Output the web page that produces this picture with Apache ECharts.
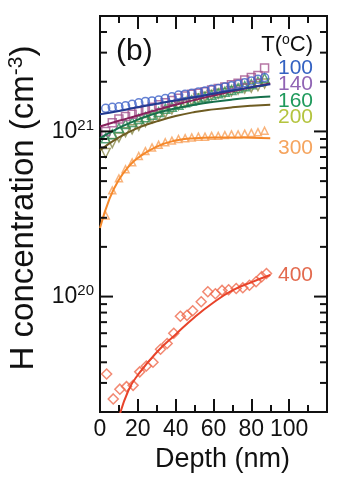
<!DOCTYPE html>
<html>
<head>
<meta charset="utf-8">
<script src="https://cdn.jsdelivr.net/npm/echarts@6/dist/echarts.min.js"></script>
<style>
  html, body { margin: 0; padding: 0; background: #fff; }
  #chart { width: 344px; height: 495px; }
</style>
</head>
<body>
<div id="chart"></div>
<script>
const FONT = "Liberation Sans, Arial, sans-serif";

// measured depths (nm)
const depth = [3, 6.5, 10, 13.5, 17, 20.5, 24, 27.5, 31, 34.5, 38, 41.5, 45, 48.5, 52, 55.5, 59, 62.5, 66, 69.5, 73, 76.5, 80, 83.5, 87];
const depth400 = [3.5, 7, 10.5, 14, 17.5, 21, 24.5, 28, 32, 35.5, 39, 42.5, 46, 49, 53.5, 57, 61, 64.5, 68, 72, 75.5, 79, 82.5, 85.5, 88];

// H concentration (cm^-3) per anneal temperature
const h100 = [1.38e21, 1.40e21, 1.41e21, 1.43e21, 1.46e21, 1.49e21, 1.52e21, 1.53e21, 1.55e21, 1.58e21, 1.62e21, 1.66e21, 1.68e21, 1.70e21, 1.73e21, 1.76e21, 1.80e21, 1.82e21, 1.86e21, 1.89e21, 1.93e21, 1.97e21, 2.02e21, 2.07e21, 2.12e21];
const h140 = [1.00e21, 1.13e21, 1.19e21, 1.23e21, 1.27e21, 1.32e21, 1.36e21, 1.40e21, 1.45e21, 1.49e21, 1.54e21, 1.59e21, 1.64e21, 1.68e21, 1.70e21, 1.74e21, 1.78e21, 1.82e21, 1.86e21, 1.92e21, 1.96e21, 2.05e21, 2.12e21, 2.18e21, 2.42e21];
const h160 = [0.91e21, 0.96e21, 1.05e21, 1.11e21, 1.14e21, 1.19e21, 1.22e21, 1.26e21, 1.31e21, 1.37e21, 1.41e21, 1.45e21, 1.50e21, 1.54e21, 1.58e21, 1.62e21, 1.66e21, 1.70e21, 1.74e21, 1.78e21, 1.83e21, 1.88e21, 1.93e21, 2.00e21, 2.10e21];
const h200 = [0.74e21, 0.85e21, 0.92e21, 0.99e21, 1.03e21, 1.08e21, 1.14e21, 1.20e21, 1.24e21, 1.29e21, 1.36e21, 1.44e21, 1.49e21, 1.53e21, 1.58e21, 1.62e21, 1.66e21, 1.69e21, 1.71e21, 1.75e21, 1.79e21, 1.82e21, 1.84e21, 1.88e21, 1.95e21];
const h300 = [3.1e20, 4.4e20, 5.2e20, 5.9e20, 6.5e20, 7.1e20, 7.6e20, 8.0e20, 8.3e20, 8.6e20, 8.8e20, 9.0e20, 9.1e20, 9.2e20, 9.3e20, 9.3e20, 9.4e20, 9.4e20, 9.5e20, 9.6e20, 9.6e20, 9.7e20, 9.8e20, 9.9e20, 1.01e21];
const h400 = [3.4e19, 2.4e19, 2.75e19, 2.85e19, 2.9e19, 3.5e19, 3.8e19, 4.0e19, 4.8e19, 5.2e19, 6.0e19, 7.6e19, 7.7e19, 8.2e19, 9.3e19, 1.07e20, 1.04e20, 1.09e20, 1.10e20, 1.12e20, 1.13e20, 1.17e20, 1.23e20, 1.32e20, 1.38e20];

// fitted curves
const fitDepth = [0, 10, 20, 30, 40, 50, 60, 70, 80, 90];
const fit100 = [1.27e21, 1.33e21, 1.40e21, 1.47e21, 1.54e21, 1.61e21, 1.69e21, 1.77e21, 1.85e21, 1.93e21];
const fit140 = [1.07e21, 1.16e21, 1.25e21, 1.35e21, 1.45e21, 1.55e21, 1.65e21, 1.75e21, 1.85e21, 1.95e21];
const fit160 = [0.91e21, 1.05e21, 1.18e21, 1.29e21, 1.38e21, 1.45e21, 1.51e21, 1.56e21, 1.60e21, 1.63e21];
const fit200 = [0.77e21, 0.92e21, 1.05e21, 1.15e21, 1.24e21, 1.31e21, 1.36e21, 1.40e21, 1.43e21, 1.45e21];
const fitDepth300 = [0, 5, 10, 15, 20, 30, 40, 50, 60, 70, 80, 90];
const fit300 = [2.6e20, 3.9e20, 5.1e20, 6.1e20, 6.9e20, 8.1e20, 8.8e20, 9.1e20, 9.2e20, 9.2e20, 9.15e20, 9.1e20];
const fitDepth400 = [10, 15, 20, 30, 40, 50, 60, 70, 80, 90];
const fit400 = [1.85e19, 2.7e19, 3.35e19, 4.6e19, 5.9e19, 7.5e19, 9.2e19, 1.09e20, 1.22e20, 1.35e20];

// y axis ticks (log), drawn on both sides
const yTicks = [3e19, 4e19, 5e19, 6e19, 7e19, 8e19, 9e19, 1e20, 2e20, 3e20, 4e20, 5e20, 6e20, 7e20, 8e20, 9e20, 1e21, 2e21, 3e21, 4e21];
const tempLabels = ["100", "140", "160", "200", "300", "400"];

const markerColor = ["#3f63c8", "#a2548e", "#2f8f5a", "#8a8a4a", "#f7a05a", "#ef6a4e"];
const lineColor = ["#22398f", "#87205c", "#16704c", "#6e5c22", "#f5882a", "#e8432a"];
const textColor = ["#3462c2", "#9064b4", "#1f9a5c", "#b4c43e", "#f5a45e", "#e36a4e"];

const pair = (xs, ys) => xs.map((x, i) => [x, ys[i]]);

function scatter(name, data, idx, symbol, size, rotate) {
    return {
        name: name,
        type: "scatter",
        data: data,
        symbol: symbol,
        symbolSize: size,
        symbolRotate: rotate || 0,
        itemStyle: { color: "transparent", borderColor: markerColor[idx], borderWidth: 1.5 },
        z: 3,
    };
}
function fit(name, data, idx) {
    return {
        name: name,
        type: "line",
        data: data,
        smooth: true,
        showSymbol: false,
        symbol: "none",
        lineStyle: { color: lineColor[idx], width: 2 },
        z: 4,
    };
}

const chart = echarts.init(document.getElementById("chart"));

const supRich = {
    base: { fontSize: 23, fontFamily: FONT, color: "#111" },
    sup: { fontSize: 15, fontFamily: FONT, color: "#111", padding: [0, 0, 12, 0] },
};

const labelTexts = [{ text: "T({s|o}C)", y: 45 }].concat(
    tempLabels.map((t, i) => ({ text: t, y: [68, 84, 101, 117, 148, 275][i], color: textColor[i] }))
);

const option = {
    animation: false,
    backgroundColor: "#fff",
    grid: {
        left: 100,
        top: 16,
        right: 17,
        bottom: 83,
        show: true,
        borderColor: "#111",
        borderWidth: 2,
        outerBoundsMode: "none",
        containLabel: false,
    },
    xAxis: [
        {
            type: "value",
            min: 0,
            max: 120,
            interval: 20,
            name: "Depth (nm)",
            nameLocation: "middle",
            nameGap: 33,
            nameTextStyle: { fontSize: 27, fontFamily: FONT, color: "#111", padding: [0, 0, 0, 18] },
            axisLine: { show: true, lineStyle: { color: "#111", width: 2 } },
            axisTick: { show: true, inside: true, length: 13, lineStyle: { color: "#111", width: 2 } },
            minorTick: { show: true, splitNumber: 2, length: 7, lineStyle: { color: "#111", width: 2 } },
            splitLine: { show: false },
            axisLabel: {
                margin: 6,
                fontSize: 23,
                fontFamily: FONT,
                color: "#111",
                formatter: (v) => (v === 120 ? "" : String(v)),
            },
        },
        {
            type: "value",
            position: "top",
            min: 0,
            max: 120,
            interval: 20,
            axisLine: { show: true, lineStyle: { color: "#111", width: 2 } },
            axisTick: { show: true, inside: true, length: 13, lineStyle: { color: "#111", width: 2 } },
            minorTick: { show: true, splitNumber: 2, length: 7, lineStyle: { color: "#111", width: 2 } },
            splitLine: { show: false },
            axisLabel: { show: false },
        },
    ],
    yAxis: {
        type: "log",
        logBase: 10,
        min: 2e19,
        max: 5e21,
        name: "H concentration (cm{s|-3})",
        nameLocation: "middle",
        nameRotate: 90,
        nameGap: 56,
        nameTextStyle: {
            fontSize: 33,
            fontFamily: FONT,
            color: "#111",
            padding: [0, 0, 0, 12],
            rich: { s: { fontSize: 21, fontFamily: FONT, color: "#111", padding: [0, 0, 17, 0] } },
        },
        axisLine: { show: true, lineStyle: { color: "#111", width: 2 } },
        axisTick: { show: false },
        splitLine: { show: false },
        axisLabel: {
            margin: 6,
            color: "#111",
            rich: supRich,
            formatter: (v) => {
                const e = Math.log10(v);
                if (Math.abs(e - Math.round(e)) > 1e-6) return "";
                return "{base|10}{sup|" + Math.round(e) + "}";
            },
        },
    },
    graphic: [
        {
            type: "text",
            left: 116,
            top: 37,
            style: { text: "(b)", fontSize: 30, fontFamily: FONT, fill: "#111" },
        },
    ].concat(
        labelTexts.map((l, i) => ({
            type: "text",
            x: 313,
            y: l.y,
            style: {
                text: l.text,
                align: "right",
                verticalAlign: "middle",
                fontSize: i === 0 ? 22 : 21,
                fontFamily: FONT,
                fill: l.color || "#111",
                rich: { s: { fontSize: 14, fontFamily: FONT, fill: "#111", padding: [0, 0, 10, 0] } },
            },
        }))
    ),
    series: [
        {
            type: "custom",
            data: yTicks.map((v) => [0, v]),
            encode: { x: 0, y: 1 },
            silent: true,
            clip: false,
            z: 5,
            renderItem: (params, api) => {
                const v = api.value(1);
                const e = Math.log10(v);
                const len = Math.abs(e - Math.round(e)) < 1e-6 ? 13 : 7;
                const pl = api.coord([0, v]);
                const pr = api.coord([120, v]);
                const st = { stroke: "#111", lineWidth: 2 };
                return {
                    type: "group",
                    children: [
                        { type: "line", shape: { x1: pl[0], y1: pl[1], x2: pl[0] + len, y2: pl[1] }, style: st },
                        { type: "line", shape: { x1: pr[0] - len, y1: pr[1], x2: pr[0], y2: pr[1] }, style: st },
                    ],
                };
            },
        },
        scatter("400", pair(depth400, h400), 5, "diamond", 10),
        scatter("300", pair(depth, h300), 4, "triangle", 7),
        scatter("200", pair(depth, h200), 3, "triangle", 9, 180),
        scatter("160", pair(depth, h160), 2, "triangle", 9),
        scatter("140", pair(depth, h140), 1, "rect", 8),
        scatter("100", pair(depth, h100), 0, "circle", 8),
        fit("fit400", pair(fitDepth400, fit400), 5),
        fit("fit300", pair(fitDepth300, fit300), 4),
        fit("fit200", pair(fitDepth, fit200), 3),
        fit("fit160", pair(fitDepth, fit160), 2),
        fit("fit140", pair(fitDepth, fit140), 1),
        fit("fit100", pair(fitDepth, fit100), 0),
    ],
};

chart.setOption(option);
</script>
</body>
</html>
